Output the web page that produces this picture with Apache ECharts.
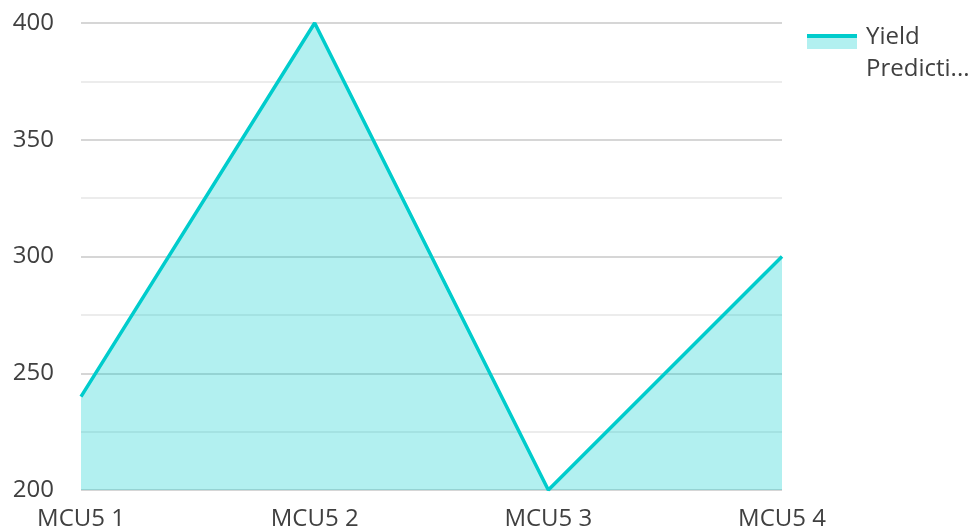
<!DOCTYPE html>
<html>
<head>
<meta charset="utf-8">
<script src="https://cdn.jsdelivr.net/npm/echarts@6/dist/echarts.min.js"></script>
<style>html,body{margin:0;padding:0;background:#fff;}#c{width:976px;height:531px;}</style>
</head>
<body>
<div id="c"></div>
<script>
const categories = ['MCU5 1', 'MCU5 2', 'MCU5 3', 'MCU5 4'];
const yieldValues = [240, 400, 200, 300];
const seriesName = 'Yield Prediction';
const legendLabel = 'Yield\nPredicti...';

const chart = echarts.init(document.getElementById('c'));
const font = '"Open Sans", sans-serif';
chart.setOption({
  animation: false,
  grid: { left: 81, right: 194, top: 23, bottom: 41 },
  legend: {
    left: 807, top: 21, padding: 0, orient: 'vertical', align: 'left',
    itemWidth: 50, itemHeight: 38,
    icon: 'rect',
    itemStyle: {
      color: { type: 'linear', x: 0, y: 0, x2: 0, y2: 1, colorStops: [
        { offset: 0, color: '#00cccc' }, { offset: 0.105, color: '#00cccc' },
        { offset: 0.105, color: '#b2f0f0' }, { offset: 0.395, color: '#b2f0f0' },
        { offset: 0.395, color: 'rgba(255,255,255,0)' }, { offset: 1, color: 'rgba(255,255,255,0)' }] }
    },
    formatter: function () { return legendLabel; },
    textStyle: { fontFamily: font, fontSize: 24, color: '#404040', lineHeight: 32, padding: [0, 0, 0, 4] }
  },
  xAxis: {
    type: 'category', data: categories, boundaryGap: false,
    axisLine: { show: false }, axisTick: { show: false },
    axisLabel: { fontFamily: font, fontSize: 24, color: '#404040', margin: 17 }
  },
  yAxis: {
    type: 'value', min: 200, max: 400, interval: 50,
    axisLine: { show: false }, axisTick: { show: false },
    axisLabel: { fontFamily: font, fontSize: 24, color: '#404040', margin: 27 },
    splitLine: { lineStyle: { color: '#c8c8c8', width: 1.5 } },
    minorTick: { show: false, splitNumber: 2 },
    minorSplitLine: { show: true, lineStyle: { color: '#e6e6e6', width: 1.5 } }
  },
  series: [{
    name: seriesName, type: 'line', data: yieldValues,
    symbol: 'none',
    lineStyle: { color: '#00cccc', width: 3.5 },
    itemStyle: { color: '#00cccc' },
    areaStyle: { color: '#00cccc', opacity: 0.3 }
  }]
});
</script>
</body>
</html>
